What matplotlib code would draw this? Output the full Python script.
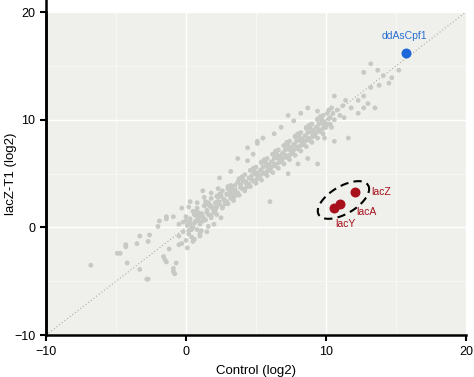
import numpy as np
import matplotlib.pyplot as plt
from matplotlib.ticker import MultipleLocator

plt.rcParams['font.family'] = ['Liberation Sans', 'DejaVu Sans']

# other genes, log2 expression: control (x) vs lacZ-T1 (y)
control = [
    -0.5, -0.5, -0.5, -0.2, -0.2, 0.0, 0.1, 0.0, 0.2, 0.3, 0.4, 0.5, 0.4,
    0.6, 0.7, 0.8, 0.9, 0.8, 1.0, 1.1, 1.0, 1.2, 1.3, 1.4, 1.5, 1.4, 1.6, 1.7,
    1.8, 1.9, 1.8, 2.0, 2.1, 2.2, 2.3, 2.2, 2.4, 2.5, 2.6, 2.7, 2.6, 2.8, 2.9,
    3.0, 3.1, 3.0, 3.2, 3.3, 3.4, 3.5, 3.4, 3.6, 3.7, 3.8, 3.9, 3.8, 4.0, 4.1,
    4.2, 4.3, 4.2, 4.4, 4.5, 4.6, 4.7, 4.6, 4.8, 4.9, 5.0, 5.1, 5.0, 5.2, 5.3,
    5.4, 5.5, 5.4, 5.6, 5.7, 5.8, 5.9, 5.8, 6.0, 6.1, 6.2, 6.3, 6.2, 6.4, 6.5,
    6.6, 6.7, 6.6, 6.8, 6.9, 7.0, 7.1, 7.0, 7.2, 7.3, 7.4, 7.5, 7.4, 7.6, 7.7,
    7.8, 7.9, 7.8, 8.0, 8.1, 8.2, 8.3, 8.2, 8.4, 8.5, 8.6, 8.7, 8.6, 8.8, 8.9,
    9.0, 9.1, 9.0, 9.2, 9.3, 9.4, 9.5, 9.4, 9.6, 9.7, 9.8, 9.9, 9.8, 10.0, 10.2,
    10.3, 10.5, 10.6, 10.8, 11.0, 11.2,
    0.3, 0.7, 1.1, 1.5, 1.9, 2.3, 2.7, 3.1, 3.5, 3.9, 4.3, 4.7, 5.1, 5.5,
    5.9, 6.3, 6.7, 7.1, 7.5, 7.9, 8.3, 8.7, 9.1, 9.5, 9.9, 10.3,
    0.5, 0.9, 1.3, 1.7, 2.1, 2.5, 2.9, 3.3, 3.7, 4.1, 4.5, 4.9, 5.3, 5.7,
    6.1, 6.5, 6.9, 7.3, 7.7, 8.1, 8.5, 8.9, 9.3, 9.7, 10.1,
    0.2, 0.6, 1.0, 1.4, 1.8, 2.2, 2.6, 3.0, 3.4, 3.8, 4.2, 4.6, 5.0, 5.4,
    5.8, 6.2, 6.6, 7.0, 7.4, 7.8, 8.2, 8.6, 9.0, 9.4, 9.8, 10.2,
    0.0, 0.4, 0.8, 1.2, 1.6, 2.0, 2.4, 2.8, 3.2, 3.6, 4.0, 4.4, 4.8, 5.2,
    5.6, 6.0, 6.4, 6.8, 7.2, 7.6, 8.0, 8.4, 8.8, 9.2, 9.6, 10.0,
    0.5, 1.0, 1.5, 2.0, 2.5, 0.2, 0.8, 1.3, 1.8, 2.3, -0.3, 0.1, 0.6, 1.1, 1.6,
    # scattered genes
    -6.8, -4.9, -4.7, -4.3, -4.3, -4.2, -3.5, -3.3, -3.3, -2.8, -2.7, -2.7,
    -2.6, -2.0, -1.9, -1.6, -1.5, -1.4, -1.4, -1.4, -1.2, -0.9, -0.9, -0.9,
    -0.8, -0.7, -0.3, 0.3, 1.2, 2.4, 3.2, 3.7, 4.4, 4.4, 4.8, 5.1, 5.1, 5.5,
    6.0, 6.3, 6.8, 7.3, 7.3, 7.7, 8.0, 8.2, 8.7, 8.7, 9.4, 9.4, 9.9, 10.1,
    10.4, 10.4, 10.6, 10.6, 11.3, 11.4, 11.6, 11.8, 12.3, 12.3, 12.7, 12.7,
    12.7, 13.0, 13.2, 13.2, 13.5, 13.7, 13.8, 14.1, 14.5, 14.7, 15.2,
]
lacz_t1 = [
    -0.8, 0.3, -1.6, 0.5, -0.4, -1.2, 0.2, 1.0, -0.3, 0.8, 0.0, 1.5, -0.9,
    0.4, 1.1, -0.2, 0.9, 1.8, 0.5, 1.3, -0.6, 1.0, 2.0, 0.7, 1.6, 2.4, 1.2, 2.1,
    0.9, 1.8, 2.7, 1.5, 2.3, 1.9, 2.8, 1.2, 2.2, 3.0, 1.8, 2.6, 3.4, 2.4, 3.1,
    2.2, 3.0, 3.8, 2.7, 3.5, 3.1, 3.9, 2.5, 3.3, 4.2, 3.0, 3.7, 4.5, 3.6, 4.3,
    3.4, 4.1, 4.9, 4.0, 4.6, 3.8, 4.4, 5.3, 4.3, 5.0, 4.1, 4.8, 5.6, 4.6, 5.3,
    4.4, 5.1, 6.0, 5.0, 5.7, 4.8, 5.5, 6.4, 5.3, 6.1, 5.1, 5.9, 6.8, 5.7, 6.5,
    5.5, 6.3, 7.2, 6.1, 6.9, 5.9, 6.7, 7.6, 6.5, 7.3, 6.3, 7.1, 8.0, 6.9, 7.7,
    6.7, 7.5, 8.4, 7.3, 8.1, 7.1, 7.9, 8.8, 7.7, 8.5, 7.5, 8.3, 9.2, 8.1, 8.9,
    7.9, 8.7, 9.6, 8.5, 9.3, 8.3, 9.1, 10.0, 8.9, 9.7, 8.7, 9.5, 10.4, 9.3, 10.1,
    9.6, 10.6, 10.0, 10.9, 10.4, 11.3,
    0.4, 0.6, 1.2, 1.4, 1.9, 2.4, 2.6, 3.2, 3.4, 4.0, 4.2, 4.8, 5.0, 5.6,
    5.8, 6.4, 6.6, 7.2, 7.4, 8.0, 8.2, 8.8, 9.0, 9.6, 9.8, 10.2,
    0.0, 1.3, 0.8, 2.0, 1.6, 2.9, 2.4, 3.6, 3.2, 4.4, 4.0, 5.2, 4.8, 6.0,
    5.6, 6.8, 6.4, 7.6, 7.2, 8.4, 8.0, 9.2, 8.8, 10.0, 9.6,
    -0.6, 1.2, 0.3, 2.1, 1.1, 2.9, 1.9, 3.6, 2.8, 4.5, 3.6, 5.3, 4.4, 6.1,
    5.2, 6.8, 6.0, 7.6, 6.7, 8.5, 7.6, 9.3, 8.4, 10.1, 9.2, 10.9,
    0.6, -0.2, 1.5, 0.6, 2.3, 1.4, 3.1, 2.2, 3.9, 3.0, 4.7, 3.8, 5.5, 4.6,
    6.3, 5.4, 7.1, 6.2, 7.9, 7.0, 8.7, 7.8, 9.5, 8.6, 10.3, 9.4,
    -1.3, -0.8, -0.4, 0.3, 0.9, 1.9, 2.3, 2.8, 3.2, 3.6, -1.5, -1.9, -1.1, -0.3, 0.1,
    -3.5, -2.4, -2.4, -1.8, -1.6, -3.3, -1.5, -0.8, -3.9, -4.8, -1.3, -4.8,
    -0.7, 0.1, 0.6, -2.7, -3.0, 1.0, 0.8, -3.2, -2.0, -3.8, -4.1, 1.0,
    -4.3, -3.3, 1.8, 2.4, 3.4, 4.6, 5.2, 6.4, 6.2, 7.4, 6.8, 7.8, 8.0, 8.3,
    2.4, 8.7, 9.3, 10.4, 5.0, 9.9, 5.9, 10.6, 6.4, 11.1, 10.8, 5.9, 8.3, 10.6,
    11.1, 9.3, 12.2, 8.0, 10.2, 11.8, 8.3, 11.1, 11.8, 10.6, 12.2, 14.4,
    11.1, 11.5, 15.2, 13.0, 11.1, 14.6, 13.2, 14.1, 13.4, 13.9, 14.6,
]

# highlighted genes
hl_names = ['ddAsCpf1', 'lacZ', 'lacA', 'lacY']
hl_control = [15.7, 12.1, 11.0, 10.6]
hl_lacz = [16.2, 3.3, 2.2, 1.8]

fig = plt.figure(figsize=(4.74, 3.77), dpi=100)
ax = fig.add_axes([0.097, 0.111, 0.886, 0.857])
ax.set_facecolor('#eff0ec')
ax.set_xlim(-10, 20)
ax.set_ylim(-10, 20)

ax.xaxis.set_major_locator(MultipleLocator(10))
ax.yaxis.set_major_locator(MultipleLocator(10))
ax.xaxis.set_minor_locator(MultipleLocator(5))
ax.yaxis.set_minor_locator(MultipleLocator(5))
ax.grid(which='major', color='white', lw=1.0)
ax.grid(which='minor', color='#f6f7f4', lw=0.8)
ax.set_axisbelow(True)
ax.tick_params(which='minor', length=0)
ax.tick_params(which='major', length=4, width=1.5, labelsize=9, color='black')

for s in ['top', 'right']:
    ax.spines[s].set_visible(False)
for s in ['left', 'bottom']:
    ax.spines[s].set_linewidth(1.8)
ax.plot([0, 0], [0, 1.04], transform=ax.transAxes, color='black', lw=1.8,
        clip_on=False, solid_capstyle='butt')

ax.plot([-10, 20], [-10, 20], ls=(0, (1, 2)), color='#a9aca8', lw=0.8, zorder=1)

ax.scatter(control, lacz_t1, s=12, color='#c6c9c4', edgecolors='none', zorder=2)

ax.scatter(hl_control[:1], hl_lacz[:1], s=38, color='#1f66d8', zorder=4)
ax.scatter(hl_control[1:], hl_lacz[1:], s=38, color='#a8101b', zorder=4)

ax.text(15.6, 17.3, 'ddAsCpf1', color='#2a6dd0', fontsize=7.5, ha='center', va='bottom')
ax.text(13.2, 3.3, 'lacZ', color='#a8101b', fontsize=7.5, ha='left', va='center')
ax.text(12.9, 1.4, 'lacA', color='#a8101b', fontsize=7.5, ha='center', va='center')
ax.text(11.4, 0.3, 'lacY', color='#a8101b', fontsize=7.5, ha='center', va='center')

# dashed ellipse around the lac genes
t = np.linspace(0, 2 * np.pi, 200)
ex = 11.25 + 1.75 * np.cos(t) + 0.55 * np.sin(t)
ey = 2.55 + 1.4 * np.cos(t) - 1.05 * np.sin(t)
ax.plot(ex, ey, color='black', ls=(0, (4, 2.5)), lw=1.5, zorder=3)

ax.set_xlabel('Control (log2)', fontsize=9.5, labelpad=5)
ax.set_ylabel('lacZ-T1 (log2)', fontsize=9.5, labelpad=1)
ax.yaxis.set_label_coords(-0.07, 0.5)

fig.savefig('out.png', dpi=100)
